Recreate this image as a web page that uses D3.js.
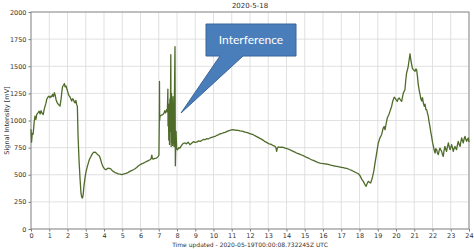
<!DOCTYPE html>
<html>
<head>
<meta charset="utf-8">
<script src="https://cdn.jsdelivr.net/npm/d3@7"></script>
<style>
  body { margin: 0; background: #fff; }
  text { font-family: "DejaVu Sans", sans-serif; fill: #333; }
</style>
</head>
<body>
<div id="chart"></div>
<script>
// chart data
var title = "2020-5-18";
var xLabel = "Time updated - 2020-05-19T00:00:08.732245Z UTC";
var yLabel = "Signal Intensity [mV]";
var calloutText = "Interference";

var xTicks = d3.range(0, 25);
var yTicks = [0, 250, 500, 750, 1000, 1250, 1500, 1750, 2000];

// hours of day
var hours = [
  0.00, 0.03, 0.07, 0.12, 0.17, 0.22, 0.27, 0.31, 0.38, 0.45, 0.50, 0.55, 0.60, 0.67, 0.72, 0.77, 0.82, 0.86, 0.92, 0.98,
  1.04, 1.09, 1.13, 1.18, 1.23, 1.28, 1.33, 1.37, 1.43, 1.50, 1.55, 1.59, 1.65, 1.70, 1.73, 1.78, 1.83, 1.87, 1.92, 1.97,
  2.02, 2.05, 2.10, 2.14, 2.19, 2.23, 2.28, 2.32, 2.37, 2.41, 2.46, 2.50, 2.54, 2.58, 2.63, 2.69, 2.74, 2.78, 2.82, 2.86,
  2.90, 2.95, 3.00, 3.07, 3.14, 3.20, 3.27, 3.35, 3.42, 3.50, 3.57, 3.63, 3.70, 3.74, 3.80, 3.87, 3.93, 4.00, 4.06, 4.11,
  4.17, 4.24, 4.30, 4.37, 4.44, 4.51, 4.60, 4.69, 4.78, 4.88, 4.97, 5.06, 5.15, 5.24, 5.33, 5.42, 5.51, 5.61, 5.70, 5.79,
  5.88, 5.97, 6.06, 6.16, 6.25, 6.34, 6.43, 6.52, 6.58, 6.62, 6.65, 6.70, 6.79, 6.88, 6.97, 7.01, 7.03, 7.04, 7.05, 7.07,
  7.15, 7.22, 7.28, 7.33, 7.38, 7.43, 7.47, 7.50, 7.51, 7.53, 7.55, 7.57, 7.59, 7.61, 7.63, 7.66, 7.68, 7.70, 7.72, 7.74,
  7.76, 7.78, 7.80, 7.82, 7.84, 7.86, 7.89,
  7.91, 7.95, 7.98, 8.03, 8.10, 8.16, 8.25, 8.34, 8.44, 8.52, 8.61, 8.71, 8.80, 8.90, 8.99, 9.08, 9.17, 9.26, 9.35, 9.44,
  9.53, 9.62, 9.72, 9.81, 9.90, 9.99, 10.08, 10.17, 10.26, 10.36, 10.45, 10.54, 10.63, 10.72, 10.81, 10.90, 10.99, 11.08, 11.18, 11.27,
  11.36, 11.45, 11.54, 11.63, 11.72, 11.81, 11.90, 11.99, 12.08, 12.18, 12.27, 12.36, 12.45, 12.54, 12.63, 12.73, 12.82, 12.90, 12.95, 13.05,
  13.12, 13.19, 13.28, 13.37, 13.42, 13.46, 13.50, 13.55, 13.64, 13.73, 13.83, 13.92, 14.01, 14.10, 14.19, 14.28, 14.37, 14.46, 14.55, 14.65,
  14.74, 14.83, 14.92, 15.01, 15.10, 15.20, 15.29, 15.38, 15.47, 15.56, 15.65, 15.74, 15.84, 15.93, 16.02, 16.11, 16.20, 16.29, 16.38, 16.47,
  16.56, 16.65, 16.74, 16.84, 16.93, 17.02, 17.11, 17.20, 17.30, 17.39, 17.48, 17.57, 17.66, 17.75, 17.85, 17.93, 18.03, 18.12, 18.21, 18.30,
  18.36, 18.42, 18.48, 18.55, 18.61, 18.67, 18.72, 18.79, 18.85, 18.94, 19.03, 19.12, 19.21, 19.30, 19.35, 19.40, 19.46, 19.52, 19.60, 19.67,
  19.72, 19.76, 19.81, 19.85, 19.90, 19.95, 20.01, 20.07, 20.12, 20.18, 20.24, 20.31, 20.36, 20.40, 20.45, 20.49, 20.54, 20.58, 20.63, 20.67,
  20.72, 20.77, 20.81, 20.86, 20.90, 20.95, 21.00, 21.04, 21.09, 21.13, 21.18, 21.22, 21.27, 21.32, 21.36, 21.41, 21.45, 21.50, 21.55, 21.59,
  21.64, 21.68, 21.72, 21.77, 21.81, 21.86, 21.90, 21.95, 22.00, 22.05, 22.09, 22.14, 22.18, 22.23, 22.27, 22.32, 22.36, 22.41, 22.45, 22.50,
  22.54, 22.59, 22.63, 22.68, 22.72, 22.77, 22.82, 22.87, 22.91, 22.96, 23.00, 23.05, 23.09, 23.14, 23.18, 23.23, 23.27, 23.32, 23.36, 23.41,
  23.46, 23.51, 23.55, 23.60, 23.64, 23.69, 23.73, 23.78, 23.82, 23.87, 23.91, 23.96, 24.00
];

// signal in mV
var signal = [
  920, 800, 880, 875, 980, 1040, 1010, 1055, 1070, 1086, 1060, 1090, 1070, 1055, 1100, 1133, 1160, 1194, 1215, 1225,
  1210, 1225, 1219, 1240, 1220, 1256, 1230, 1194, 1165, 1148, 1140, 1133, 1200, 1280, 1312, 1325, 1340, 1310, 1318, 1290,
  1260, 1241, 1225, 1216, 1195, 1179, 1200, 1194, 1170, 1164, 1185, 1148, 1130, 850, 640, 454, 330, 294, 285, 320,
  393, 460, 515, 565, 607, 640, 663, 690, 706, 709, 700, 690, 680, 675, 650, 607, 580, 561, 550, 546,
  555, 561, 558, 555, 540, 531, 520, 515, 508, 506, 502, 506, 510, 515, 522, 531, 538, 546, 556, 567,
  580, 592, 600, 607, 615, 623, 630, 638, 648, 680, 650, 644, 650, 653, 669, 680, 1000, 1360, 1000, 1040,
  1050, 1055, 1065, 1090, 1070, 1100, 1080, 1290, 950, 1120, 820, 1150, 780, 1200, 900, 1606, 760, 1250, 800, 1180,
  770, 1220, 790, 1150, 760, 1250, 1680,
  583, 900, 740, 730, 750, 746, 770, 790, 793, 785, 800, 777, 790, 805, 798, 800, 812, 808, 815, 825,
  823, 832, 830, 839, 845, 850, 853, 862, 868, 878, 880, 887, 890, 898, 905, 909, 913, 915, 912, 910,
  909, 905, 903, 900, 893, 890, 885, 880, 875, 869, 860, 852, 844, 835, 828, 817, 805, 800, 793, 785,
  782, 777, 768, 761, 750, 715, 745, 756, 752, 755, 752, 745, 742, 737, 730, 722, 715, 708, 700, 694,
  688, 682, 676, 668, 660, 654, 645, 638, 632, 625, 618, 612, 608, 605, 603, 601, 599, 595, 590, 587,
  583, 580, 577, 574, 571, 568, 565, 562, 559, 553, 546, 540, 532, 525, 516, 510, 491, 460, 439, 408,
  393, 420, 439, 430, 424, 454, 485, 540, 608, 700, 793, 840, 869, 931, 945, 915, 970, 1023, 1050, 1084,
  1110, 1130, 1170, 1192, 1215, 1207, 1190, 1176, 1200, 1207, 1190, 1176, 1220, 1253, 1270, 1284, 1380, 1438, 1470, 1499,
  1560, 1615, 1560, 1514, 1480, 1468, 1460, 1453, 1475, 1468, 1400, 1330, 1280, 1238, 1200, 1180, 1210, 1161, 1130, 1150,
  1100, 1100, 1070, 1038, 990, 946, 900, 853, 800, 761, 730, 700, 740, 731, 700, 685, 720, 746, 730, 715,
  690, 669, 720, 761, 740, 715, 760, 793, 760, 731, 750, 777, 750, 715, 740, 761, 745, 731, 770, 808,
  780, 761, 800, 839, 815, 793, 830, 853, 830, 808, 825, 839, 800
];

var svgWidth = 474;
var svgHeight = 249;

var margin = { top: 12, right: 5, bottom: 20, left: 31 };
var width = svgWidth - margin.left - margin.right;
var height = svgHeight - margin.top - margin.bottom;

var svg = d3.select("#chart")
  .append("svg")
  .attr("width", svgWidth)
  .attr("height", svgHeight);

var chartGroup = svg.append("g")
  .attr("transform", `translate(${margin.left}, ${margin.top})`);

var xScale = d3.scaleLinear().domain([0, 24]).range([0, width]);
var yScale = d3.scaleLinear().domain([0, 2000]).range([height, 0]);

// grid
chartGroup.append("g")
  .selectAll("line.vgrid")
  .data(xTicks)
  .enter()
  .append("line")
  .attr("x1", d => xScale(d)).attr("x2", d => xScale(d))
  .attr("y1", 0).attr("y2", height)
  .attr("stroke", "#d9d9d9").attr("stroke-width", 0.8);

chartGroup.append("g")
  .selectAll("line.hgrid")
  .data(yTicks)
  .enter()
  .append("line")
  .attr("x1", 0).attr("x2", width)
  .attr("y1", d => yScale(d)).attr("y2", d => yScale(d))
  .attr("stroke", "#d9d9d9").attr("stroke-width", 0.8);

// axes
var bottomAxis = d3.axisBottom(xScale).tickValues(xTicks).tickSize(2.5).tickPadding(2).tickFormat(d3.format("d"));
var leftAxis = d3.axisLeft(yScale).tickValues(yTicks).tickSize(2.5).tickPadding(2).tickFormat(d3.format("d"));

var xg = chartGroup.append("g")
  .attr("transform", `translate(0, ${height})`)
  .call(bottomAxis);
var yg = chartGroup.append("g")
  .call(leftAxis);

[xg, yg].forEach(function(g) {
  g.select(".domain").remove();
  g.selectAll("line").attr("stroke", "#555").attr("stroke-width", 0.8);
  g.selectAll("text").attr("font-size", "6.5px").attr("fill", "#333")
    .style("font-family", "DejaVu Sans");
});

// frame
chartGroup.append("rect")
  .attr("x", 0).attr("y", 0)
  .attr("width", width).attr("height", height)
  .attr("fill", "none")
  .attr("stroke", "#8c8c8c")
  .attr("stroke-width", 1);

// line
var line = d3.line()
  .x(d => xScale(d[0]))
  .y(d => yScale(d[1]));

chartGroup.append("path")
  .datum(hours.map((h, i) => [h, signal[i]]))
  .attr("d", line)
  .attr("fill", "none")
  .attr("stroke", "#4f6b2a")
  .attr("stroke-width", 1.3)
  .attr("stroke-linejoin", "round");

// title and labels
svg.append("text")
  .attr("x", margin.left + width / 2)
  .attr("y", 8)
  .attr("text-anchor", "middle")
  .attr("font-size", "7px")
  .text(title);

svg.append("text")
  .attr("x", margin.left + width / 2)
  .attr("y", svgHeight - 2.5)
  .attr("text-anchor", "middle")
  .attr("font-size", "6px")
  .text(xLabel);

svg.append("text")
  .attr("transform", "rotate(-90)")
  .attr("x", -(margin.top + height / 2))
  .attr("y", 9)
  .attr("text-anchor", "middle")
  .attr("font-size", "6.5px")
  .text(yLabel);

// callout
var callout = svg.append("g");
callout.append("path")
  .attr("d", "M206,24 L296,24 L296,56 L243,56 L181,113 L220,56 L206,56 Z")
  .attr("fill", "#4a7ebb")
  .attr("stroke", "#3a659a")
  .attr("stroke-width", 1);
callout.append("text")
  .attr("x", 251)
  .attr("y", 44)
  .attr("text-anchor", "middle")
  .style("font-family", "Lato, 'Liberation Sans', sans-serif")
  .style("fill", "#fff")
  .attr("font-size", "12px")
  .text(calloutText);
</script>
</body>
</html>
